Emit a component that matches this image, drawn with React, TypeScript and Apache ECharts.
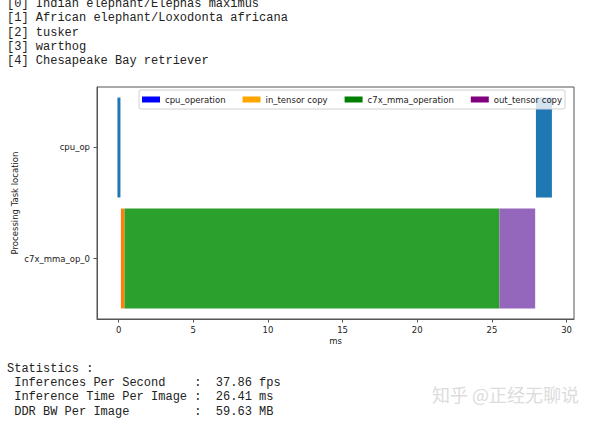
import React, { useEffect, useRef } from "react";
import * as echarts from "echarts";

// ---- data ----
const headerLines = [
  "[0] Indian elephant/Elephas maximus",
  "[1] African elephant/Loxodonta africana",
  "[2] tusker",
  "[3] warthog",
  "[4] Chesapeake Bay retriever",
];
const statLines = [
  "Statistics :",
  " Inferences Per Second    :  37.86 fps",
  " Inference Time Per Image :  26.41 ms",
  " DDR BW Per Image         :  59.63 MB",
];
const taskNames = ["c7x_mma_op_0", "cpu_op"]; // y = 0, 1
const xTicks = [0, 5, 10, 15, 20, 25, 30];
const legendNames = ["cpu_operation", "in_tensor copy", "c7x_mma_operation", "out_tensor copy"];
const legendColors = ["blue", "orange", "green", "purple"];
const barColors = ["#1f77b4", "#ff7f0e", "#2ca02c", "#9467bd"];

// segments: start (ms), duration (ms), task index
const cpuStarts = [-0.08, 27.95];
const cpuDurations = [0.2, 1.07];
const inCopyStarts = [0.15];
const inCopyDurations = [0.25];
const mmaStarts = [0.4];
const mmaDurations = [25.1];
const outCopyStarts = [25.5];
const outCopyDurations = [2.4];

const segStarts = [cpuStarts, inCopyStarts, mmaStarts, outCopyStarts];
const segDurations = [cpuDurations, inCopyDurations, mmaDurations, outCopyDurations];
const segTask = [1, 0, 0, 0];

const BAR_HALF = 0.45;

export default function App() {
  const ref = useRef<HTMLDivElement>(null);
  useEffect(() => {
    if (!ref.current) return;
    const chart = echarts.init(ref.current, undefined, { renderer: "svg" });
    const series = legendNames.map((name, i) => ({
      name,
      type: "custom",
      itemStyle: { color: barColors[i] },
      encode: { x: [0, 1], y: 2 },
      data: segStarts[i].map((s, j) => [s, segDurations[i][j], segTask[i]]),
      renderItem: (params: any, api: any) => {
        const start = api.value(0);
        const dur = api.value(1);
        const y = api.value(2);
        const p0 = api.coord([start, y + BAR_HALF]);
        const p1 = api.coord([start + dur, y - BAR_HALF]);
        return {
          type: "rect",
          shape: { x: p0[0], y: p0[1], width: p1[0] - p0[0], height: p1[1] - p0[1] },
          style: { fill: barColors[i] },
        };
      },
    }));

    const mono = "'Liberation Mono', monospace";
    const graphics: any[] = [];
    headerLines.forEach((t, i) => {
      graphics.push({
        type: "text",
        left: 7,
        top: 5 + i * 14.25 - 7,
        style: { text: t, font: `12px ${mono}`, fill: "#222" },
      });
    });
    const statY = [370, 384, 398, 412.5];
    statLines.forEach((t, i) => {
      graphics.push({
        type: "text",
        left: 7,
        top: statY[i] - 7,
        style: { text: t, font: `12px ${mono}`, fill: "#222" },
      });
    });
    graphics.push({
      type: "text",
      left: 432,
      top: 385,
      style: {
        text: "知乎 @正经无聊说",
        font: "18px 'Noto Sans CJK SC'",
        fill: "#dcdcdc",
        shadowColor: "rgba(0,0,0,0.2)",
        shadowBlur: 1,
        shadowOffsetX: 0.5,
        shadowOffsetY: 0.5,
      },
    });

    const labelFont = "DejaVu Sans";
    const fs = 8.5;
    chart.setOption({
      animation: false,
      backgroundColor: "#fff",
      grid: {
        left: 97,
        top: 87,
        right: 26,
        bottom: 106,
        outerBoundsMode: "none",
        containLabel: false,
        show: true,
        borderColor: "#555",
        borderWidth: 1,
        backgroundColor: "transparent",
      },
      legend: {
        left: 139,
        top: 90,
        itemWidth: 18,
        itemHeight: 6,
        itemGap: 17,
        padding: [5, 3, 5, 3],
        icon: "rect",
        backgroundColor: "rgba(255,255,255,0.8)",
        borderColor: "#d0d0d0",
        borderWidth: 1,
        borderRadius: 2,
        textStyle: { fontFamily: labelFont, fontSize: fs, color: "#222" },
        data: legendNames.map((n, i) => ({ name: n, itemStyle: { color: legendColors[i] } })),
      },
      xAxis: {
        type: "value",
        min: -1.45,
        max: 30.5,
        name: "ms",
        nameLocation: "middle",
        nameGap: 17,
        nameMoveOverlap: false,
        nameTextStyle: { fontFamily: labelFont, fontSize: fs, color: "#222" },
        axisLine: { show: true, onZero: false, lineStyle: { color: "#555", width: 1 } },
        axisTick: { show: true, length: 3.5, lineStyle: { color: "#555" }, customValues: xTicks },
        axisLabel: {
          customValues: xTicks,
          margin: 6,
          fontFamily: labelFont,
          fontSize: fs,
          color: "#222",
        },
        splitLine: { show: false },
      },
      yAxis: {
        type: "value",
        min: -0.545,
        max: 1.545,
        name: "Processing Task location",
        nameLocation: "middle",
        nameGap: 78,
        nameRotate: 90,
        nameMoveOverlap: false,
        nameTextStyle: { fontFamily: labelFont, fontSize: fs, color: "#222" },
        axisLine: { show: true, onZero: false, lineStyle: { color: "#555", width: 1 } },
        axisTick: { show: true, length: 3.5, lineStyle: { color: "#555" }, customValues: [0, 1] },
        axisLabel: {
          customValues: [0, 1],
          formatter: (v: number) => taskNames[Math.round(v)] ?? "",
          margin: 7,
          fontFamily: labelFont,
          fontSize: fs,
          color: "#222",
        },
        splitLine: { show: false },
      },
      series,
      graphic: graphics,
    });
    return () => chart.dispose();
  }, []);
  return (
    <div
      ref={ref}
      style={{ position: "absolute", left: 0, top: 0, width: 600, height: 425 }}
    />
  );
}
